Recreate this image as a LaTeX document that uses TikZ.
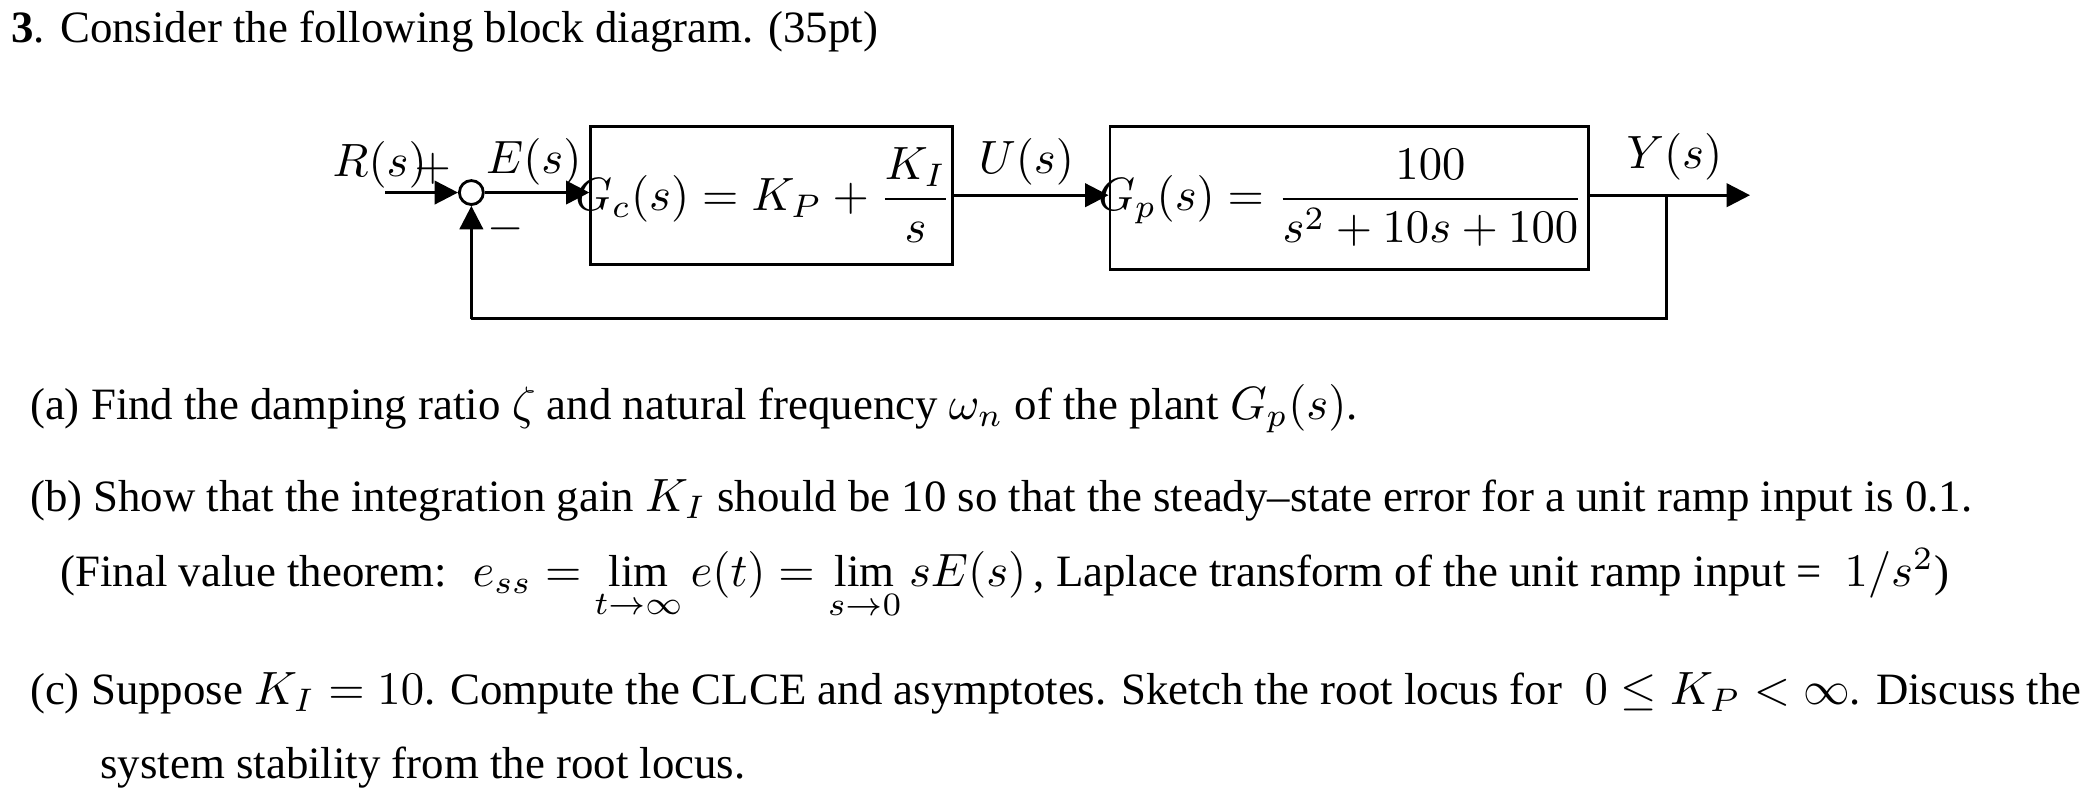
\documentclass[tikz,border=0pt]{standalone}
\usepackage{amsmath}
\usepackage{fontspec}
\setmainfont{Liberation Serif}
\usetikzlibrary{arrows.meta}
\begin{document}
\begin{tikzpicture}[x=0.01cm,y=-0.01cm,font=\fontsize{9.6}{11}\selectfont,
  blk/.style={draw,line width=0.6pt,inner sep=0},
  sig/.style={line width=0.6pt,-{Triangle[length=5pt,width=5pt]}},
  lbl/.style={inner sep=0}]
\useasboundingbox (0,0) rectangle (1568,605);
\node[lbl,anchor=west] (title) at (8,24) {\textbf{3}. Consider the following block diagram. (35pt)};
\node[draw,circle,minimum size=0.18cm,inner sep=0,line width=0.6pt] (sum) at (355,145) {};
\coordinate (in) at (290,145);
\node[blk,minimum width=2.72cm,minimum height=1.04cm] (gc) at (581,147) {};
\node[lbl] (gct) at (575,147) {$G_c(s)=K_P+\dfrac{K_I}{s}$};
\node[blk,minimum width=3.6cm,minimum height=1.08cm] (gp) at (1016,149) {};
\node[lbl] (gpt) at (1010,149) {$G_p(s)=\dfrac{100}{s^2+10s+100}$};
\coordinate (out) at (1318,147);
\coordinate (tap) at (1255,147);
\coordinate (fb1) at (1255,240);
\coordinate (fb2) at (355,240);
\draw[sig] (in) -- (sum);
\draw[sig] (sum) -- (gc.west |- sum);
\draw[sig] (gc.east |- out) -- (gp.west |- out);
\draw[sig] (gp.east |- out) -- (out);
\draw[line width=0.6pt] (tap) -- (fb1) -- (fb2);
\draw[sig] (fb2) -- (sum);
\node[lbl] (R) at (286,124) {$R(s)$};
\node[lbl] (plus) at (326,127) {$+$};
\node[lbl] (E) at (402,122) {$E(s)$};
\node[lbl] (minus) at (381,172) {$-$};
\node[lbl] (U) at (773,122) {$U(s)$};
\node[lbl] (Y) at (1261,118) {$Y(s)$};
\node[lbl,anchor=west] (a) at (22,308) {(a) Find the damping ratio $\zeta$ and natural frequency $\omega_n$ of the plant $G_p(s)$.};
\node[lbl,anchor=west] (b) at (22,377) {(b) Show that the integration gain $K_I$ should be 10 so that the steady–state error for a unit ramp input is 0.1.};
\node[lbl,anchor=west] (f) at (45,440) {(Final value theorem: \ $e_{ss}=\lim\limits_{t\to\infty}e(t)=\lim\limits_{s\to 0}sE(s)$\,, Laplace transform of the unit ramp input = \ $1/s^2$)};
\node[lbl,anchor=west] (c) at (22,522) {(c) Suppose $K_I=10$. Compute the CLCE and asymptotes. Sketch the root locus for \ $0\le K_P<\infty$. Discuss the};
\node[lbl,anchor=west] (c2) at (75,578) {system stability from the root locus.};
\end{tikzpicture}
\end{document}
